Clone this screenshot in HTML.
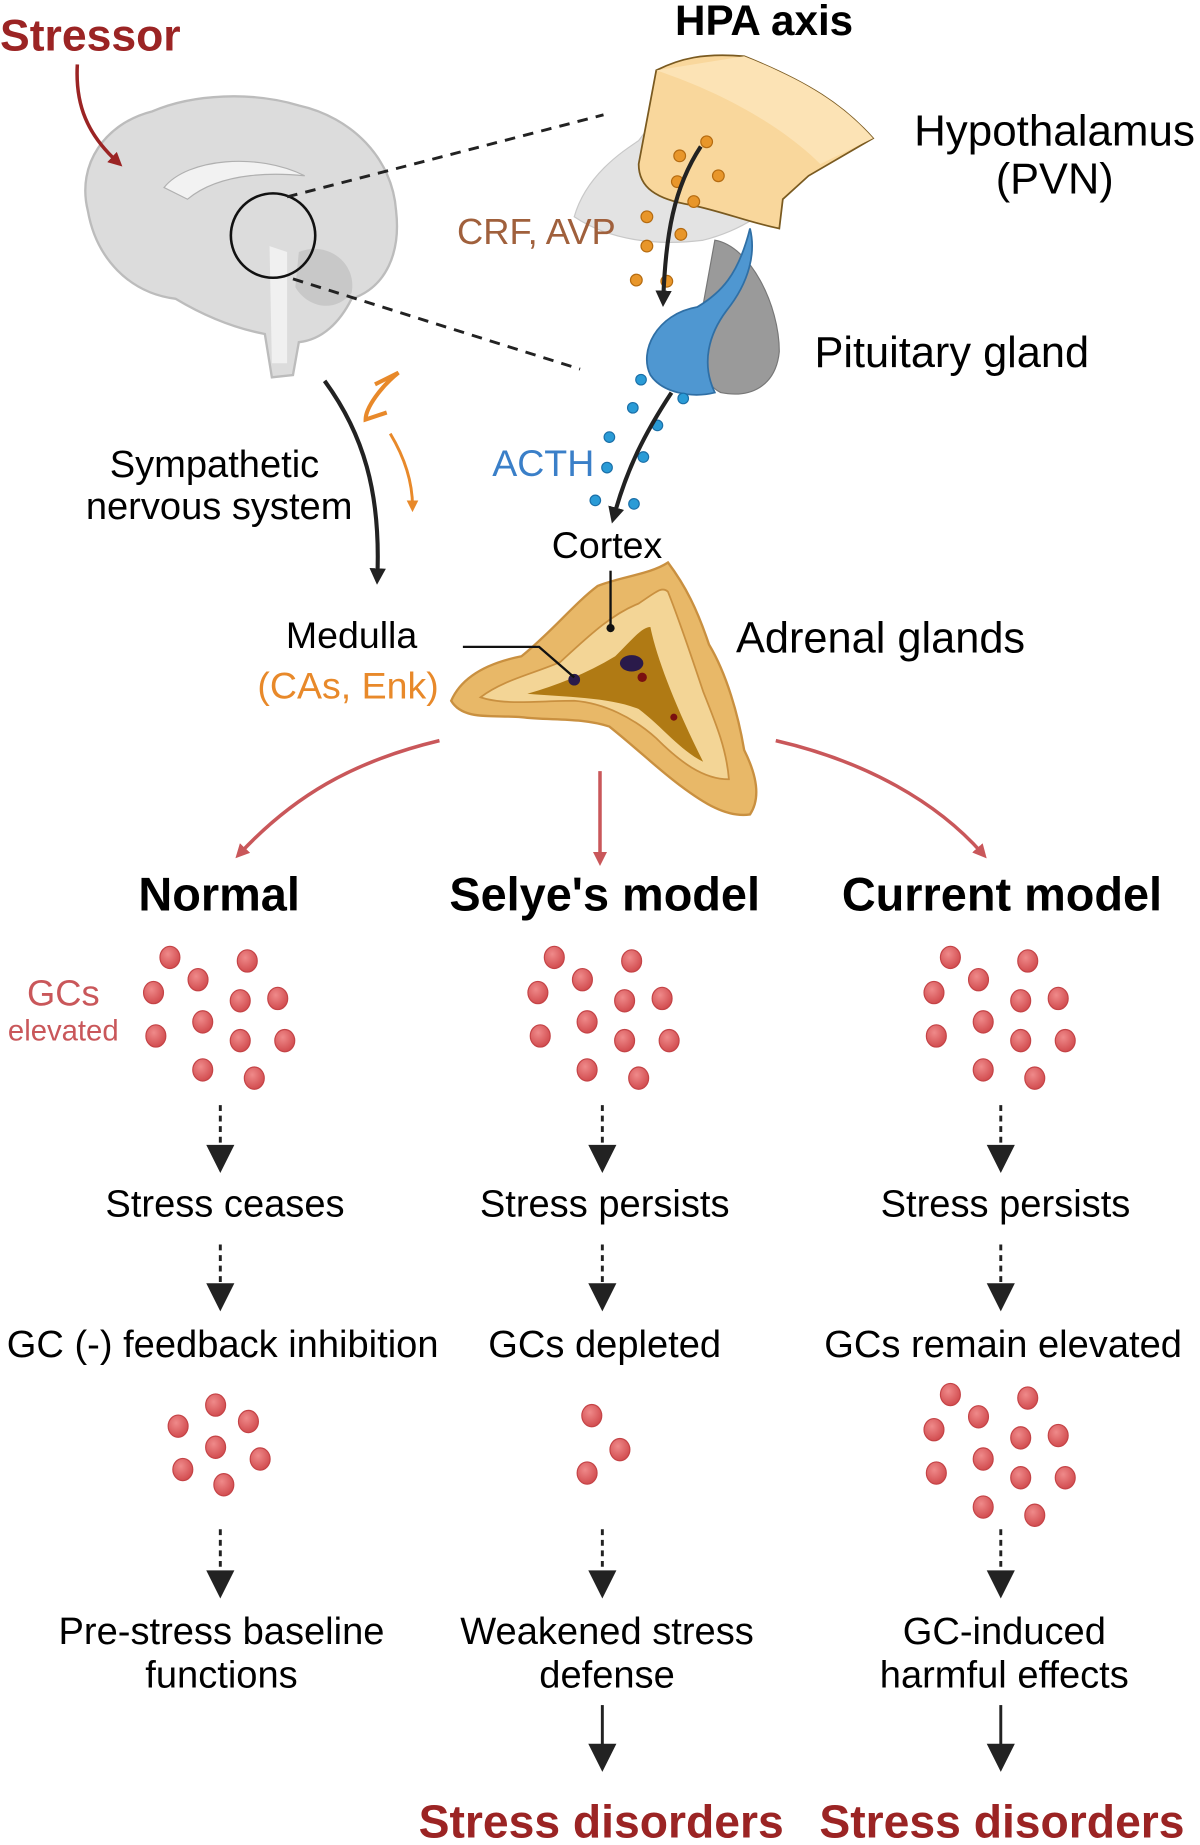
<!DOCTYPE html>
<html><head><meta charset="utf-8"><style>html,body{margin:0;padding:0;background:#fff}svg{display:block}text{font-family:"Liberation Sans",sans-serif}</style></head>
<body>
<svg width="1200" height="1845" viewBox="0 0 1024 1574.4" xmlns="http://www.w3.org/2000/svg">
<defs>
<marker id="ab" viewBox="0 0 10 10" refX="5" refY="5" markerWidth="4" markerHeight="4" orient="auto"><path d="M0,0 L10,5 L0,10 z" fill="#222"/></marker>
<marker id="ar" viewBox="0 0 10 10" refX="5" refY="5" markerWidth="4" markerHeight="4" orient="auto"><path d="M0,0 L10,5 L0,10 z" fill="#c9575a"/></marker>
<marker id="ao" viewBox="0 0 10 10" refX="5" refY="5" markerWidth="4" markerHeight="4" orient="auto"><path d="M0,0 L10,5 L0,10 z" fill="#e8892a"/></marker>
<marker id="ad" viewBox="0 0 10 10" refX="5" refY="5" markerWidth="4" markerHeight="4" orient="auto"><path d="M0,0 L10,5 L0,10 z" fill="#9b2424"/></marker>
<radialGradient id="rd" cx="40%" cy="35%" r="65%"><stop offset="0" stop-color="#ef8a8a"/><stop offset="1" stop-color="#d24d50"/></radialGradient>
<g id="d"><ellipse cx="0" cy="0" rx="8.5" ry="9.5" fill="url(#rd)" stroke="#c44346" stroke-width="1"/></g>
</defs>

<!-- Brain -->
<path d="M75,180 C65,140 90,105 130,95 C165,80 215,78 255,90 C300,100 335,135 338,180 C342,215 330,245 300,255 C290,275 275,290 255,292 L250,320 L232,322 L226,285 C200,280 175,270 150,255 C110,250 82,220 75,180 z" fill="#dcdcdc" stroke="#bcbcbc" stroke-width="2"/>
<path d="M140,160 C160,135 220,130 260,150 C240,148 190,145 160,170 z" fill="#f2f2f2" stroke="#b0b0b0"/>
<path d="M230,210 L232,310 L245,310 L245,215 z" fill="#f0f0f0"/>
<path d="M255,215 C280,205 305,225 300,250 C285,268 262,262 252,245 z" fill="#c8c8c8"/>
<circle cx="233" cy="201" r="36" fill="none" stroke="#111" stroke-width="2.2"/>
<path d="M245,168 L515,98" stroke="#222" stroke-width="2.5" stroke-dasharray="9,7"/>
<path d="M250,238 L495,315" stroke="#222" stroke-width="2.5" stroke-dasharray="9,7"/>
<path d="M66,55 C64,90 75,115 100,138" fill="none" stroke="#9b2424" stroke-width="3" marker-end="url(#ad)"/>

<!-- Hypothalamus -->
<path d="M490,185 C500,150 530,130 545,120 L560,100 L600,130 L690,150 C660,175 640,195 600,205 C560,210 520,205 490,185 z" fill="#e3e3e3" stroke="#c8c8c8"/>
<path d="M560,60 C580,50 600,45 635,48 C690,70 720,90 745,118 L690,150 L668,170 L665,195 C640,190 615,180 590,175 C560,170 545,160 545,140 z" fill="#f9d79c" stroke="#7a5a20" stroke-width="1.5"/>
<path d="M560,60 L635,48 C690,70 720,90 745,118 L700,140 C670,110 620,80 560,60 z" fill="#fce3b5"/>
<path d="M610,205 C640,210 665,260 665,300 C662,330 640,340 615,335 C595,325 590,290 600,260 z" fill="#9a9a9a" stroke="#777"/>
<path d="M640,195 C630,235 615,250 595,262 C560,268 545,300 555,320 C565,335 590,340 610,335 C598,310 605,285 620,265 C640,240 645,215 640,195 z" fill="#4f97d1" stroke="#2f6fa5" stroke-width="1.5"/>
<g fill="#e8962a" stroke="#b56b10" stroke-width="1">
<circle cx="603" cy="121" r="5"/><circle cx="580" cy="133" r="5"/><circle cx="613" cy="150" r="5"/><circle cx="578" cy="155" r="5"/><circle cx="592" cy="172" r="5"/><circle cx="552" cy="185" r="5"/><circle cx="581" cy="200" r="5"/><circle cx="552" cy="210" r="5"/><circle cx="543" cy="239" r="5"/><circle cx="569" cy="240" r="5"/></g>
<path d="M598,125 C575,160 568,200 566,255" fill="none" stroke="#222" stroke-width="3.5" marker-end="url(#ab)"/>
<g fill="#2a9bd6" stroke="#1a6fa8" stroke-width="1"><circle cx="547" cy="324" r="4.5"/><circle cx="540" cy="348" r="4.5"/><circle cx="561" cy="363" r="4.5"/><circle cx="520" cy="373" r="4.5"/><circle cx="549" cy="390" r="4.5"/><circle cx="518" cy="399" r="4.5"/><circle cx="508" cy="427" r="4.5"/><circle cx="541" cy="430" r="4.5"/><circle cx="583" cy="340" r="4.5"/></g>
<path d="M573,335 C550,370 535,400 524,440" fill="none" stroke="#222" stroke-width="3.5" marker-end="url(#ab)"/>

<!-- sympathetic -->
<path d="M277,325 C310,370 325,420 322,492" fill="none" stroke="#222" stroke-width="3.5" marker-end="url(#ab)"/>
<path d="M320,328 L340,318 C325,330 312,348 312,358 L330,352" fill="none" stroke="#e8892a" stroke-width="3.5"/>
<path d="M333,370 C345,390 352,410 352,432" fill="none" stroke="#e8892a" stroke-width="2.5" marker-end="url(#ao)"/>

<!-- Adrenal -->
<path d="M385,598 C395,575 420,565 445,560 C470,540 490,515 510,500 C530,492 555,490 570,480 C585,500 595,520 605,550 C620,575 630,610 635,640 C645,660 650,680 640,695 C620,698 600,685 580,670 C560,655 545,640 520,620 C495,612 470,615 445,612 C420,610 395,615 385,598 z" fill="#e8b868" stroke="#c99040" stroke-width="2"/>
<path d="M410,595 C430,580 455,575 478,565 C500,545 520,525 545,515 C560,505 565,500 570,505 C580,530 590,560 600,590 C612,620 620,640 622,665 C600,665 580,650 560,630 C540,612 515,600 490,598 C460,598 430,602 410,595 z" fill="#f3d596" stroke="#c99040" stroke-width="1.5"/>
<path d="M450,592 C475,585 500,575 525,560 C540,545 548,535 555,535 C560,560 575,600 600,650 C580,640 565,620 545,605 C520,595 485,595 450,592 z" fill="#b07a14"/>
<ellipse cx="539" cy="566" rx="10" ry="7" fill="#2a1a4a"/>
<circle cx="548" cy="578" r="4" fill="#7a1010"/><circle cx="490" cy="580" r="5" fill="#2a1a4a"/><circle cx="575" cy="612" r="3" fill="#7a1010"/>
<path d="M521,487 L521,535" stroke="#111" stroke-width="2"/><circle cx="521" cy="536" r="3.5" fill="#111"/>
<path d="M395,552 L460,552 L490,578" fill="none" stroke="#111" stroke-width="2"/>

<!-- red arrows -->
<path d="M375,632 C300,650 250,680 205,728" fill="none" stroke="#c9575a" stroke-width="3" marker-end="url(#ar)"/>
<path d="M512,658 L512,733" stroke="#c9575a" stroke-width="3" marker-end="url(#ar)"/>
<path d="M662,632 C740,650 800,685 838,728" fill="none" stroke="#c9575a" stroke-width="3" marker-end="url(#ar)"/>

<!-- top labels -->
<text x="0" y="43" font-size="38" font-weight="bold" fill="#9b2424">Stressor</text>
<text x="652" y="30" font-size="36" font-weight="bold" text-anchor="middle">HPA axis</text>
<text x="780" y="124" font-size="37.5">Hypothalamus</text>
<text x="900" y="165" font-size="37" text-anchor="middle">(PVN)</text>
<text x="390" y="208" font-size="31" fill="#a0603c">CRF, AVP</text>
<text x="695" y="313" font-size="37">Pituitary gland</text>
<text x="420" y="406" font-size="32" fill="#3a7fc8">ACTH</text>
<text x="183" y="407" font-size="32.5" text-anchor="middle">Sympathetic</text>
<text x="187" y="443" font-size="32.5" text-anchor="middle">nervous system</text>
<text x="518" y="476" font-size="32" text-anchor="middle">Cortex</text>
<text x="300" y="553" font-size="32" text-anchor="middle">Medulla</text>
<text x="297" y="596" font-size="32" text-anchor="middle" fill="#e8892a">(CAs, Enk)</text>
<text x="628" y="557" font-size="37">Adrenal glands</text>

<g font-size="40" font-weight="bold" text-anchor="middle">
<text x="187" y="777">Normal</text><text x="516" y="777">Selye's model</text><text x="855" y="777">Current model</text></g>
<text x="54" y="858" font-size="31" fill="#c9575a" text-anchor="middle">GCs</text>
<text x="54" y="888" font-size="25" fill="#c9575a" text-anchor="middle">elevated</text>

<g id="cl"><use href="#d" x="145" y="817"/><use href="#d" x="211" y="820"/><use href="#d" x="169" y="836"/><use href="#d" x="131" y="847"/><use href="#d" x="205" y="854"/><use href="#d" x="237" y="852"/><use href="#d" x="173" y="872"/><use href="#d" x="133" y="884"/><use href="#d" x="205" y="888"/><use href="#d" x="243" y="888"/><use href="#d" x="173" y="913"/><use href="#d" x="217" y="920"/></g>
<use href="#cl" x="328"/><use href="#cl" x="666"/><use href="#cl" x="666" y="373"/>
<use href="#d" x="184" y="1199"/><use href="#d" x="152" y="1217"/><use href="#d" x="212" y="1213"/><use href="#d" x="184" y="1235"/><use href="#d" x="222" y="1245"/><use href="#d" x="156" y="1254"/><use href="#d" x="191" y="1267"/>
<use href="#d" x="505" y="1208"/><use href="#d" x="529" y="1237"/><use href="#d" x="501" y="1257"/>

<g stroke="#222" stroke-width="2.5" stroke-dasharray="5,4" fill="none">
<path d="M188,943 L188,980"/><path d="M514,943 L514,980"/><path d="M854,943 L854,980"/>
<path d="M188,1062 L188,1098"/><path d="M514,1062 L514,1098"/><path d="M854,1062 L854,1098"/>
<path d="M188,1305 L188,1343"/><path d="M514,1305 L514,1343"/><path d="M854,1305 L854,1343"/></g>
<g stroke="#222" stroke-width="2.5"><path d="M514,1455 L514,1492"/><path d="M854,1455 L854,1492"/></g>
<g fill="#222">
<path d="M176,977 L200,977 L188,1001z"/><path d="M502,977 L526,977 L514,1001z"/><path d="M842,977 L866,977 L854,1001z"/>
<path d="M176,1095 L200,1095 L188,1119z"/><path d="M502,1095 L526,1095 L514,1119z"/><path d="M842,1095 L866,1095 L854,1119z"/>
<path d="M176,1340 L200,1340 L188,1364z"/><path d="M502,1340 L526,1340 L514,1364z"/><path d="M842,1340 L866,1340 L854,1364z"/>
<path d="M502,1488 L526,1488 L514,1512z"/><path d="M842,1488 L866,1488 L854,1512z"/></g>

<g font-size="32.5" text-anchor="middle">
<text x="192" y="1038">Stress ceases</text><text x="516" y="1038">Stress persists</text><text x="858" y="1038">Stress persists</text>
<text x="190" y="1158">GC (-) feedback inhibition</text><text x="516" y="1158">GCs depleted</text><text x="856" y="1158">GCs remain elevated</text>
<text x="189" y="1403">Pre-stress baseline</text><text x="189" y="1440">functions</text>
<text x="518" y="1403">Weakened stress</text><text x="518" y="1440">defense</text>
<text x="857" y="1403">GC-induced</text><text x="857" y="1440">harmful effects</text></g>
<g font-size="39.5" font-weight="bold" fill="#9b2424" text-anchor="middle">
<text x="513" y="1568">Stress disorders</text><text x="855" y="1568">Stress disorders</text></g>
</svg>
</body></html>
